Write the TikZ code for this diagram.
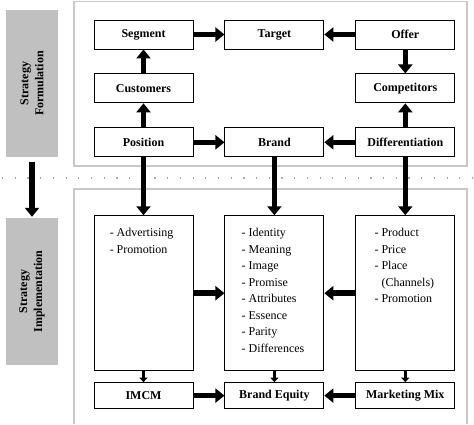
\documentclass[tikz,border=0pt]{standalone}
\usepackage{fontspec}
\setmainfont{Liberation Serif}
\usetikzlibrary{arrows.meta}
\usetikzlibrary{positioning}

\definecolor{panelgray}{RGB}{200,200,200}
\definecolor{stagegray}{RGB}{192,192,192}
\definecolor{dotgray}{RGB}{170,170,170}

\begin{document}
\begin{tikzpicture}[x=1pt, y=-1pt, font=\fontsize{12}{16.5}\selectfont,
        box/.style={draw=black, line width=0.9pt, fill=white, minimum width=99pt, minimum height=29pt, inner sep=0pt, font=\fontsize{12}{14}\selectfont\bfseries},
        bigbox/.style={draw=black, line width=0.9pt, fill=white, minimum width=99pt, minimum height=155pt, inner sep=0pt},
        lowbox/.style={box, minimum height=26pt},
        listtext/.style={inner sep=0pt, align=left},
        stage/.style={fill=stagegray, minimum width=147pt, minimum height=52pt, rotate=90, align=center, inner sep=0pt, font=\fontsize{12}{15}\selectfont\bfseries},
        panel/.style={draw=panelgray, line width=1.3pt},
        fat/.style={line width=5.5pt, -{Triangle[length=9pt, width=14pt]}},
        slim/.style={line width=3pt, -{Triangle[length=4.5pt, width=8pt]}}]
    \useasboundingbox[fill=white] (0,0) rectangle (474,424);

    % panels and divider
    \draw[panel] (74,1.5) rectangle (467,166);
    \draw[panel] (74,424) -- (74,189) -- (467,189) -- (467,424);
    \draw[draw=dotgray, line width=1.2pt, dash pattern=on 1.2pt off 11.5pt] (2,178) -- (474,178);

    % stages
    \node[stage] (formulation) at (32,83.5) {Strategy\\Formulation};
    \node[stage] (implementation) at (32,291.5) {Strategy\\Implementation};
    \draw[fat, shorten <=5pt, shorten >=1pt] (formulation) -- (implementation);

    % formulation
    \node[box] (segment) at (143.5,34.5) {Segment};
    \node[box] (target) [right=31pt of segment] {Target};
    \node[box] (offer) [right=31pt of target] {Offer};
    \node[box] (customers) [below=24pt of segment] {Customers};
    \node[box] (competitors) [below=24pt of offer] {Competitors};
    \node[box] (position) [below=24pt of customers] {Position};
    \node[box] (brand) [right=31pt of position] {Brand};
    \node[box] (differentiation) [right=31pt of brand] {Differentiation};

    % implementation
    \node[bigbox] (commbox) [below=58pt of position] {};
    \node[bigbox] (brandbox) [below=58pt of brand] {};
    \node[bigbox] (mixbox) [below=58pt of differentiation] {};
    \node[listtext] (commlist) [below right=13pt and 16pt of commbox.north west] {- Advertising\\- Promotion};
    \node[listtext] (brandlist) [below right=13pt and 17pt of brandbox.north west] {- Identity\\- Meaning\\- Image\\- Promise\\- Attributes\\- Essence\\- Parity\\- Differences};
    \node[listtext] (mixlist) [below right=13pt and 19pt of mixbox.north west] {- Product\\- Price\\- Place\\\hphantom{- }(Channels)\\- Promotion};
    \node[lowbox] (imcm) [below=11pt of commbox] {IMCM};
    \node[lowbox] (equity) [below=11pt of brandbox] {Brand Equity};
    \node[lowbox] (marketingmix) [below=11pt of mixbox] {Marketing Mix};

    \draw[fat] (segment) -- (target);
    \draw[fat] (offer) -- (target);
    \draw[fat] (offer) -- (competitors);
    \draw[fat] (customers) -- (segment);
    \draw[fat] (position) -- (customers);
    \draw[fat] (differentiation) -- (competitors);
    \draw[fat] (position) -- (brand);
    \draw[fat] (differentiation) -- (brand);
    \draw[fat] (position) -- (commbox);
    \draw[fat] (brand) -- (brandbox);
    \draw[fat] (differentiation) -- (mixbox);
    \draw[fat] (commbox) -- (brandbox);
    \draw[fat] (mixbox) -- (brandbox);
    \draw[slim] (commbox) -- (imcm);
    \draw[slim] (brandbox) -- (equity);
    \draw[slim] (mixbox) -- (marketingmix);
    \draw[fat] (imcm) -- (equity);
    \draw[fat] (marketingmix) -- (equity);
\end{tikzpicture}
\end{document}
